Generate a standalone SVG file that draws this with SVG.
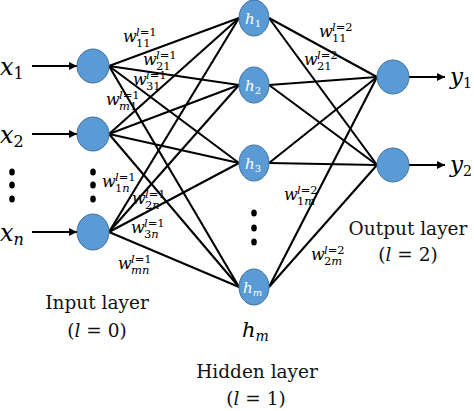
<svg xmlns="http://www.w3.org/2000/svg" width="474" height="411" viewBox="0 0 474 411">
<defs>
<marker id="ah" viewBox="0 0 10 10" refX="10" refY="5" markerWidth="4" markerHeight="4" markerUnits="strokeWidth" orient="auto">
<path d="M0,0 L10,5 L0,10 z" fill="#000"/>
</marker>
<style>
.node{fill:#5b9bd5;stroke:#41719c;stroke-width:1}
.conn line{stroke:#000;stroke-width:2.1}
.arr{stroke:#000;stroke-width:2;marker-end:url(#ah)}
.dot{fill:#000}
.m{font-family:"DejaVu Serif","Liberation Serif",serif;font-style:italic;fill:#000}
.up{font-style:normal}
.lab{font-family:"DejaVu Serif","Liberation Serif",serif;font-size:18.5px;fill:#111;text-anchor:middle}
.w{font-size:16px}
.s{font-size:11.5px}
.hn{fill:#fff;font-size:15px}
.hs{fill:#fff;font-size:10px}
</style>
</defs>
<rect width="474" height="411" fill="#fff"/>
<g id="connectors" class="conn">
<line x1="109" y1="66" x2="239" y2="18"/>
<line x1="109" y1="66" x2="239" y2="85"/>
<line x1="109" y1="66" x2="239" y2="163"/>
<line x1="109" y1="66" x2="239" y2="287"/>
<line x1="109" y1="134" x2="239" y2="18"/>
<line x1="109" y1="134" x2="239" y2="85"/>
<line x1="109" y1="134" x2="239" y2="163"/>
<line x1="109" y1="134" x2="239" y2="287"/>
<line x1="109" y1="232" x2="239" y2="18"/>
<line x1="109" y1="232" x2="239" y2="85"/>
<line x1="109" y1="232" x2="239" y2="163"/>
<line x1="109" y1="232" x2="239" y2="287"/>
<line x1="269" y1="18" x2="377" y2="77"/>
<line x1="269" y1="18" x2="377" y2="165"/>
<line x1="269" y1="85" x2="377" y2="77"/>
<line x1="269" y1="85" x2="377" y2="165"/>
<line x1="269" y1="163" x2="377" y2="77"/>
<line x1="269" y1="163" x2="377" y2="165"/>
<line x1="269" y1="287" x2="377" y2="77"/>
<line x1="269" y1="287" x2="377" y2="165"/>
<line class="arr" x1="32" y1="66" x2="77" y2="66"/>
<line class="arr" x1="32" y1="134" x2="77" y2="134"/>
<line class="arr" x1="32" y1="232" x2="77" y2="232"/>
<line class="arr" x1="409" y1="77" x2="445" y2="77"/>
<line class="arr" x1="409" y1="165" x2="445" y2="165"/>
</g>
<g id="input1"><ellipse class="node" cx="93" cy="66" rx="16" ry="17"/></g>
<g id="input2"><ellipse class="node" cx="93" cy="134" rx="16" ry="17"/></g>
<g id="inputn"><ellipse class="node" cx="93" cy="232" rx="16" ry="18"/></g>
<g id="hidden1"><ellipse class="node" cx="254" cy="18" rx="15" ry="18"/>
<text class="m hn" x="245" y="24">h<tspan class="hs up" dy="3">1</tspan></text></g>
<g id="hidden2"><ellipse class="node" cx="254" cy="85" rx="15" ry="18"/>
<text class="m hn" x="245" y="91">h<tspan class="hs up" dy="3">2</tspan></text></g>
<g id="hidden3"><ellipse class="node" cx="254" cy="163" rx="15" ry="18"/>
<text class="m hn" x="245" y="169">h<tspan class="hs up" dy="3">3</tspan></text></g>
<g id="hiddenm"><ellipse class="node" cx="254" cy="287" rx="15" ry="18"/>
<text class="m hn" x="243" y="293">h<tspan class="hs" dy="3">m</tspan></text></g>
<g id="output1"><ellipse class="node" cx="393" cy="77" rx="16" ry="17"/></g>
<g id="output2"><ellipse class="node" cx="393" cy="165" rx="16" ry="17"/></g>
<g id="dots">
<ellipse class="dot" cx="12" cy="172" rx="2.8" ry="3.6"/>
<ellipse class="dot" cx="12" cy="185" rx="2.8" ry="3.6"/>
<ellipse class="dot" cx="12" cy="199" rx="2.8" ry="3.6"/>
<ellipse class="dot" cx="93" cy="172" rx="2.8" ry="3.6"/>
<ellipse class="dot" cx="93" cy="185" rx="2.8" ry="3.6"/>
<ellipse class="dot" cx="93" cy="199" rx="2.8" ry="3.6"/>
<ellipse class="dot" cx="254" cy="213" rx="2.8" ry="3.6"/>
<ellipse class="dot" cx="254" cy="228" rx="2.8" ry="3.6"/>
<ellipse class="dot" cx="254" cy="242" rx="2.8" ry="3.6"/>
</g>
<g id="io-labels" class="m">
<text x="0" y="75" font-size="24">x<tspan class="up" font-size="16" dy="4">1</tspan></text>
<text x="0" y="143" font-size="24">x<tspan class="up" font-size="16" dy="4">2</tspan></text>
<text x="0" y="241" font-size="24">x<tspan font-size="16" dy="4">n</tspan></text>
<text x="450" y="84" font-size="23">y<tspan class="up" font-size="14" dy="4">1</tspan></text>
<text x="450" y="172" font-size="23">y<tspan class="up" font-size="14" dy="4">2</tspan></text>
</g>
<g id="weights" class="m">
<text class="w" x="123" y="42">w<tspan class="s" x="136" dy="-6">l<tspan class="up">=1</tspan></tspan><tspan class="s up" x="136" dy="11">11</tspan></text>
<text class="w" x="143" y="65">w<tspan class="s" x="156" dy="-6">l<tspan class="up">=1</tspan></tspan><tspan class="s up" x="156" dy="11">21</tspan></text>
<text class="w" x="133" y="85">w<tspan class="s" x="146" dy="-6">l<tspan class="up">=1</tspan></tspan><tspan class="s up" x="146" dy="11">31</tspan></text>
<text class="w" x="106" y="105">w<tspan class="s" x="119" dy="-6">l<tspan class="up">=1</tspan></tspan><tspan class="s" x="119" dy="11">m<tspan class="up">1</tspan></tspan></text>
<text class="w" x="102" y="187">w<tspan class="s" x="115" dy="-6">l<tspan class="up">=1</tspan></tspan><tspan class="s up" x="115" dy="11">1<tspan class="m">n</tspan></tspan></text>
<text class="w" x="132" y="204">w<tspan class="s" x="145" dy="-6">l<tspan class="up">=1</tspan></tspan><tspan class="s up" x="145" dy="11">2<tspan class="m">n</tspan></tspan></text>
<text class="w" x="131" y="233">w<tspan class="s" x="144" dy="-6">l<tspan class="up">=1</tspan></tspan><tspan class="s up" x="144" dy="11">3<tspan class="m">n</tspan></tspan></text>
<text class="w" x="118" y="269">w<tspan class="s" x="131" dy="-6">l<tspan class="up">=1</tspan></tspan><tspan class="s" x="131" dy="11">mn</tspan></text>
<text class="w" x="319" y="37">w<tspan class="s" x="332" dy="-6">l<tspan class="up">=2</tspan></tspan><tspan class="s up" x="332" dy="11">11</tspan></text>
<text class="w" x="304" y="65">w<tspan class="s" x="317" dy="-6">l<tspan class="up">=2</tspan></tspan><tspan class="s up" x="317" dy="11">21</tspan></text>
<text class="w" x="284" y="200">w<tspan class="s" x="297" dy="-6">l<tspan class="up">=2</tspan></tspan><tspan class="s up" x="297" dy="11">1<tspan class="m">m</tspan></tspan></text>
<text class="w" x="311" y="260">w<tspan class="s" x="324" dy="-6">l<tspan class="up">=2</tspan></tspan><tspan class="s up" x="324" dy="11">2<tspan class="m">m</tspan></tspan></text>
</g>
<g id="layer-labels">
<text class="lab" x="97" y="309">Input layer</text>
<text class="lab" x="97" y="337">(<tspan font-style="italic">l</tspan> = 0)</text>
<text class="m" x="242" y="337" font-size="21">h<tspan font-size="14" dy="4">m</tspan></text>
<text class="lab" x="257" y="378">Hidden layer</text>
<text class="lab" x="256" y="405">(<tspan font-style="italic">l</tspan> = 1)</text>
<text class="lab" x="408" y="235">Output layer</text>
<text class="lab" x="408" y="261">(<tspan font-style="italic">l</tspan> = 2)</text>
</g>
</svg>
